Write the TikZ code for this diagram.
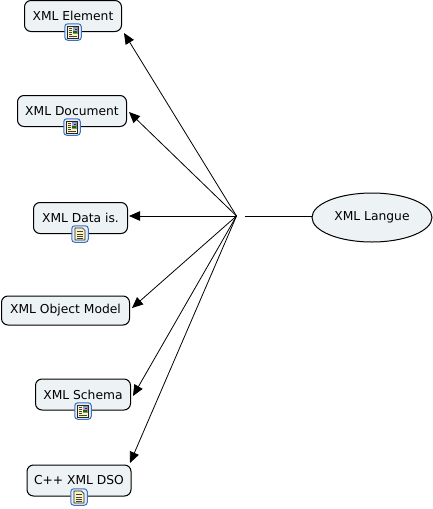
\documentclass[tikz,border=0pt]{standalone}
\usepackage{fontspec}
\setmainfont{DejaVu Sans}
\usetikzlibrary{arrows.meta,shapes.geometric}
\definecolor{fillc}{HTML}{EDF3F5}
\definecolor{iconb}{HTML}{3C70C0}
\definecolor{iconf}{HTML}{E4EEFA}
\definecolor{pagef}{HTML}{FBF3C0}
\tikzset{
  x=1pt,y=-1pt,
  conceptbox/.style={draw=black,fill=fillc,rounded corners=6.5pt,line width=1pt,inner sep=0pt,text=black,font=\fontsize{12.3pt}{14pt}\selectfont},
  rootoval/.style={draw=black,fill=fillc,ellipse,line width=1pt,inner sep=0pt,font=\fontsize{12.3pt}{14pt}\selectfont},
  linkarrow/.style={line width=0.8pt,-{Triangle[length=11pt,width=9.5pt]}},
  linkplain/.style={line width=0.8pt},
  iconframe/.style={draw=iconb,fill=iconf,rounded corners=3pt,line width=1pt,minimum width=16.5pt,minimum height=16.5pt,inner sep=0pt},
  iconpage/.style={draw=black!85,fill=pagef,line width=0.7pt},
  iconline/.style={draw=black!75,line width=0.6pt}
}
\newcommand{\docicon}[3]{%
  \node[iconframe] (#1) at (#2,#3) {};
  \begin{scope}[shift={(#2,#3)}]
    \draw[iconpage] (-5,-6) -- (2.5,-6) -- (5,-3.5) -- (5,6) -- (-5,6) -- cycle;
    \foreach \yy in {-2.5,0,2.5,4.5}{\draw[iconline] (-3,\yy) -- (3,\yy);}
  \end{scope}}
\newcommand{\picicon}[3]{%
  \node[iconframe] (#1) at (#2,#3) {};
  \begin{scope}[shift={(#2,#3)}]
    \draw[iconpage] (-5.5,-6) rectangle (5.5,6);
    \foreach \yy in {-3.5,-1.5,0.5,2.5}{\draw[iconline] (-4,\yy) -- (-1,\yy);}
    \draw[iconline] (-4,4.3) -- (4,4.3);
    \fill[black!45] (-0.3,-5) rectangle (4.7,1.5);
    \fill[blue!40!white] (0.3,-4.4) rectangle (4.2,-1.2);
    \fill[green!45!black] (0.3,-1.2) rectangle (4.2,0.9);
    \fill[red!60!black] (2.4,-3.4) rectangle (3.7,-2.1);
  \end{scope}}
\begin{document}
\begin{tikzpicture}
\useasboundingbox (0,0) rectangle (433,509);
\fill[white] (0,0) rectangle (433,509);
\node[conceptbox,minimum width=97pt,minimum height=31pt] (elem) at (73,16) {XML Element};
\node[conceptbox,minimum width=109pt,minimum height=31pt] (docu) at (72,111) {XML Document};
\node[conceptbox,minimum width=94pt,minimum height=31pt] (data) at (80.5,218) {XML Data is.};
\node[conceptbox,minimum width=128pt,minimum height=29pt] (objm) at (65.5,310.5) {XML Object Model};
\node[conceptbox,minimum width=95pt,minimum height=31pt] (schm) at (83,394.5) {XML Schema};
\node[conceptbox,minimum width=104pt,minimum height=31pt] (cpps) at (79,480.5) {C++ XML DSO};
\node[rootoval,minimum width=120pt,minimum height=49pt] (root) at (372,217.5) {XML Langue};
\picicon{iconA}{73}{32}
\picicon{iconB}{72}{127}
\docicon{iconC}{80}{234}
\picicon{iconE}{83}{411}
\docicon{iconF}{79}{497}
\coordinate (hubin) at (245,216);
\coordinate (hub) at (236.5,216);
\coordinate (tipA) at (124,33);
\coordinate (tipB) at (129,112);
\coordinate (tipC) at (129,216);
\coordinate (tipD) at (132,308);
\coordinate (tipE) at (133,396);
\coordinate (tipF) at (130,463);
\draw[linkplain] (root.west |- hubin) -- (hubin);
\draw[linkarrow] (hub) -- (tipA);
\draw[linkarrow] (hub) -- (tipB);
\draw[linkarrow] (hub) -- (tipC);
\draw[linkarrow] (hub) -- (tipD);
\draw[linkarrow] (hub) -- (tipE);
\draw[linkarrow] (hub) -- (tipF);
\end{tikzpicture}
\end{document}
